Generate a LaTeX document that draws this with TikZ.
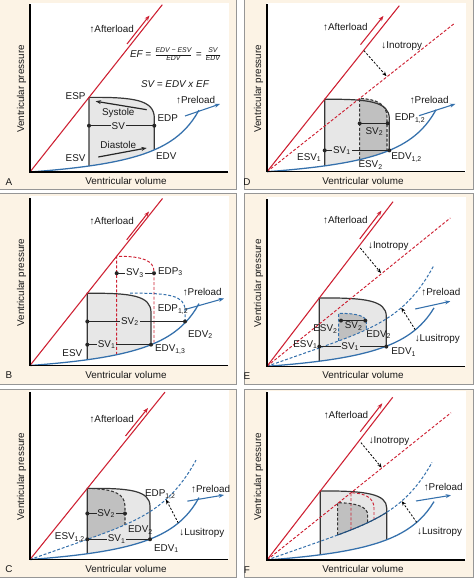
\documentclass[tikz,border=0pt]{standalone}
\usepackage{amsmath}
\usepackage{fontspec}
\setmainfont{Liberation Sans}
\usetikzlibrary{arrows.meta}

\definecolor{panelbg}{RGB}{252,243,229}
\definecolor{panelrule}{RGB}{150,150,150}
\definecolor{pvred}{RGB}{206,32,50}
\definecolor{pvblue}{RGB}{52,112,172}
\definecolor{loopfill}{RGB}{231,231,231}
\definecolor{darkfill}{RGB}{192,192,192}
\definecolor{loopline}{RGB}{55,55,55}

\newcommand{\incr}{{\bfseries ↑}}
\newcommand{\decr}{{\bfseries ↓}}

\tikzset{
  lbl/.style={font=\fontsize{7.4}{8}\selectfont, inner sep=0.6pt, text=black!90},
  espvr/.style={draw=pvred, line width=0.8pt},
  espvrdash/.style={draw=pvred, line width=0.7pt, dash pattern=on 2.2pt off 1.4pt},
  edpvr/.style={draw=pvblue, line width=0.95pt},
  edpvrdash/.style={draw=pvblue, line width=0.75pt, dash pattern=on 2.2pt off 1.4pt},
  loopedge/.style={draw=loopline, line width=0.9pt},
  loopdash/.style={draw=loopline, line width=0.8pt, dash pattern=on 2.2pt off 1.4pt},
  svline/.style={draw=black!85, line width=0.9pt},
  axisline/.style={draw=black, line width=1.1pt},
  loadarrow/.style={-{Stealth[length=4pt,width=3pt]}, line width=0.8pt},
  shiftarrow/.style={draw=black, -{Stealth[length=3.5pt,width=2.8pt]}, line width=0.6pt, dash pattern=on 1.6pt off 1.2pt},
  panelbox/.style={fill=panelbg, draw=panelrule, line width=0.6pt},
  pvdot/.style={fill=black!85}
}

\begin{document}
\begin{tikzpicture}[x=0.75pt, y=0.75pt,
  declare function={edp(\v)=15.49*\v/(211.3-\v); lus(\v)=0.35*\v+1.97*(\v/100)^6;}]
  \useasboundingbox (0,0) rectangle (474,579);
  \fill[white] (0,0) rectangle (474,579);

  \path[panelbox] (-1,389.7) rectangle (236,581);
  \path[panelbox] (244,389.7) rectangle (473,581);
  \path[panelbox] (-1,194.3) rectangle (236,385.3);
  \path[panelbox] (244,194.3) rectangle (473,385.3);
  \path[panelbox] (-1,1.5) rectangle (236,189.7);
  \path[panelbox] (244,1.5) rectangle (473,189.7);

  % A
  \begin{scope}[shift={(30,407)}]
    \fill[white] (0,0) rectangle (199,169);
    \fill[loopfill] (59,{edp(59)}) -- (59,74.6) .. controls (104,75) and (124.3,72) .. (124.3,54)
      -- (124.3,{edp(124.3)}) -- plot[domain=124.3:59, samples=15] (\x,{edp(\x)}) -- cycle;
    \draw[loopedge] (59,{edp(59)}) -- (59,74.6) .. controls (104,75) and (124.3,72) .. (124.3,54)
      -- (124.3,{edp(124.3)});
    \draw[edpvr] plot[domain=0:169, samples=50] (\x,{edp(\x)});
    \draw[espvr] (0,0) -- (132.3,167.3);
    \draw[espvr, loadarrow] (97,128) -- (119.5,156.5);
    \draw[edpvr, loadarrow] (155,56) -- (190,68);
    \draw[axisline] (0,167.5) -- (0,0) -- (198,0);

    \draw[svline] (59,46.3) -- (124.3,46.3);
    \fill[pvdot] (59,46.3) circle (1.5pt) (124.3,46.3) circle (1.5pt);
    \node[lbl, fill=loopfill] (sva) at (88.3,46.3) {SV};
    \node[lbl] (systa) at (88.3,59) {Systole};
    \node[lbl] (diasta) at (88.3,27) {Diastole};
    \draw[svline, -{Stealth[length=4pt,width=3pt]}] (116.7,62.3) -- (65.7,70.7);
    \draw[svline, -{Stealth[length=4pt,width=3pt]}] (68.3,15) -- (116.7,24);

    \node[lbl, anchor=east] (espa) at (56.5,76) {ESP};
    \node[lbl, anchor=west] (edpa) at (126.5,54) {EDP};
    \node[lbl, anchor=east] (esva) at (56.5,14) {ESV};
    \node[lbl, anchor=west] (edva) at (125,16) {EDV};
    \node[lbl, anchor=east] (afta) at (105,143) {\incr Afterload};
    \node[lbl, anchor=west] (prea) at (145,72.3) {\incr Preload};
    \node[lbl, anchor=west, font=\fontsize{7.4}{8}\selectfont\itshape] (efa) at (99,117)
      {EF = $\frac{\text{EDV − ESV}\mathstrut}{\text{EDV}\mathstrut}$ = $\frac{\text{SV}\mathstrut}{\text{EDV}\mathstrut}$};
    \node[lbl, anchor=west, font=\fontsize{7.4}{8}\selectfont\itshape] (sva2) at (110,88) {SV = EDV x EF};

    \node[lbl, rotate=90] (ya) at (-8.5,83) {Ventricular pressure};
    \node[lbl] (xa) at (96,-9) {Ventricular volume};
    \node[lbl] (taga) at (-21,-10) {A};
  \end{scope}

  % B
  \begin{scope}[shift={(30,213.5)}]
    \fill[white] (0,0) rectangle (199,169);
    \fill[loopfill] (57.3,{edp(57.3)}) -- (57.3,72.2) .. controls (101,72.6) and (121,70) .. (121,53)
      -- (121,{edp(121)}) -- plot[domain=121:57.3, samples=15] (\x,{edp(\x)}) -- cycle;
    \draw[loopedge] (57.3,{edp(57.3)}) -- (57.3,72.2) .. controls (101,72.6) and (121,70) .. (121,53)
      -- (121,{edp(121)});
    \draw[edpvrdash] (100,72.4) .. controls (140,72.4) and (155,70) .. (155,55) -- (155,{edp(155)});
    \draw[espvrdash] (86.7,{edp(86.7)}) -- (86.7,109.2) .. controls (112,109.5) and (124,105) .. (124,94)
      -- (124,{edp(124)});
    \draw[edpvr] plot[domain=0:169, samples=50] (\x,{edp(\x)});
    \draw[espvr] (0,0) -- (132.5,167);
    \draw[espvr, loadarrow] (96.7,125.7) -- (119,154);
    \draw[edpvr, loadarrow] (155,56) -- (194,67);
    \draw[axisline] (0,167.5) -- (0,0) -- (198,0);

    \draw[svline] (86.7,92.3) -- (124,92.3);
    \draw[svline] (57.3,44) -- (155,44);
    \draw[svline] (57.3,20.8) -- (121,20.8);
    \fill[pvdot] (86.7,92.3) circle (1.5pt) (124,92.3) circle (1.5pt)
      (57.3,44) circle (1.5pt) (155,44) circle (1.5pt)
      (57.3,20.8) circle (1.5pt) (121,20.8) circle (1.5pt);
    \node[lbl, fill=white] (sv3b) at (105,92.3) {SV\textsubscript{3}};
    \node[lbl, fill=loopfill] (sv2b) at (100,44) {SV\textsubscript{2}};
    \node[lbl, fill=loopfill] (sv1b) at (76.7,20.8) {SV\textsubscript{1}};

    \node[lbl, anchor=west] (edp3b) at (127,94) {EDP\textsubscript{3}};
    \node[lbl, anchor=west] (edp12b) at (126.7,55.7) {EDP\textsubscript{1,2}};
    \node[lbl, anchor=west] (edv2b) at (157,30.7) {EDV\textsubscript{2}};
    \node[lbl, anchor=west] (edv13b) at (124,16) {EDV\textsubscript{1,3}};
    \node[lbl, anchor=east] (esvb) at (53.3,12.3) {ESV};
    \node[lbl, anchor=east] (aftb) at (105,144) {\incr Afterload};
    \node[lbl, anchor=west] (preb) at (151.7,73.3) {\incr Preload};

    \node[lbl, rotate=90] (yb) at (-8.5,83) {Ventricular pressure};
    \node[lbl] (xb) at (96,-9) {Ventricular volume};
    \node[lbl] (tagb) at (-21,-10) {B};
  \end{scope}

  % C
  \begin{scope}[shift={(30,19.5)}]
    \fill[white] (0,0) rectangle (199,169);
    \fill[loopfill] (57.3,{edp(57.3)}) -- (57.3,71.1) .. controls (100,71.5) and (120,69) .. (120,53)
      -- (120,{edp(120)}) -- plot[domain=120:57.3, samples=15] (\x,{edp(\x)}) -- cycle;
    \fill[darkfill] (57.3,{lus(57.3)}) -- (57.3,71.1) .. controls (84,70.5) and (95,66) .. (95,53)
      -- (95,{lus(95)}) -- plot[domain=95:57.3, samples=10] (\x,{lus(\x)}) -- cycle;
    \draw[loopedge] (57.3,{edp(57.3)}) -- (57.3,71.1) .. controls (100,71.5) and (120,69) .. (120,53)
      -- (120,{edp(120)});
    \draw[loopdash] (57.3,71.1) .. controls (84,70.5) and (95,66) .. (95,53) -- (95,{lus(95)});
    \draw[edpvrdash] plot[domain=0:166, samples=50] (\x,{lus(\x)});
    \draw[edpvr] plot[domain=0:169, samples=50] (\x,{edp(\x)});
    \draw[espvr] (0,0) -- (135,167.4);
    \draw[espvr, loadarrow] (95.5,123.5) -- (118,151.5);
    \draw[edpvr, loadarrow] (157.3,58.3) -- (194,64.5);
    \draw[shiftarrow] (148.3,{edp(148.3)}) -- (136,{lus(136)});
    \draw[axisline] (0,167.5) -- (0,0) -- (198,0);

    \draw[svline] (57.3,46) -- (95,46);
    \draw[svline] (57.3,20.2) -- (120,20.2);
    \fill[pvdot] (57.3,46) circle (1.5pt) (95,46) circle (1.5pt)
      (57.3,20.2) circle (1.5pt) (120,20.2) circle (1.5pt);
    \node[lbl, fill=darkfill] (sv2c) at (76.2,46) {SV\textsubscript{2}};
    \node[lbl, fill=loopfill] (sv1c) at (86.7,20.2) {SV\textsubscript{1}};

    \node[lbl, anchor=west] (edp12c) at (114,65) {EDP\textsubscript{1,2}};
    \node[lbl, anchor=west] (edv2c) at (97,29.3) {EDV\textsubscript{2}};
    \node[lbl, anchor=east] (esv12c) at (56,22) {ESV\textsubscript{1,2}};
    \node[lbl, anchor=west] (edv1c) at (123,11) {EDV\textsubscript{1}};
    \node[lbl, anchor=east] (aftc) at (105,140) {\incr Afterload};
    \node[lbl, anchor=west] (prec) at (160,70) {\incr Preload};
    \node[lbl, anchor=west] (lusc) at (148.3,26.7) {\decr Lusitropy};

    \node[lbl, rotate=90] (yc) at (-8.5,83) {Ventricular pressure};
    \node[lbl] (xc) at (96,-9) {Ventricular volume};
    \node[lbl] (tagc) at (-21,-10) {C};
  \end{scope}

  % D
  \begin{scope}[shift={(267,407.3)}]
    \fill[white] (0,0) rectangle (199,169);
    \fill[loopfill] (57.7,{edp(57.7)}) -- (57.7,72.4) .. controls (102,72.8) and (122.3,70) .. (122.3,53)
      -- (122.3,{edp(122.3)}) -- plot[domain=122.3:57.7, samples=15] (\x,{edp(\x)}) -- cycle;
    \fill[darkfill] (92.7,{edp(92.7)}) -- (92.7,73.3) .. controls (108,72.5) and (120,69) .. (120,54)
      -- (120,{edp(120)}) -- plot[domain=120:92.7, samples=10] (\x,{edp(\x)}) -- cycle;
    \draw[loopedge] (57.7,{edp(57.7)}) -- (57.7,72.4) .. controls (102,72.8) and (122.3,70) .. (122.3,53)
      -- (122.3,{edp(122.3)});
    \draw[loopdash] (92.7,{edp(92.7)}) -- (92.7,73.3) .. controls (108,72.5) and (120,69) .. (120,54)
      -- (120,{edp(120)});
    \draw[edpvr] plot[domain=0:169, samples=50] (\x,{edp(\x)});
    \draw[espvrdash] (0,0) -- (186.7,147.7);
    \draw[espvr] (0,0) -- (132.3,166);
    \draw[espvr, loadarrow] (93.5,127) -- (116.5,155.8);
    \draw[edpvr, loadarrow] (152,56) -- (188.3,67.7);
    \draw[shiftarrow] (97,121) -- (119.5,95.5);
    \draw[axisline] (0,167.5) -- (0,0) -- (198,0);

    \draw[svline] (92.7,48.3) -- (120.7,48.3);
    \draw[svline] (57.7,{edp(122.3)}) -- (122.3,{edp(122.3)});
    \fill[pvdot] (92.7,48.3) circle (1.5pt) (120.7,48.3) circle (1.5pt)
      (57.7,{edp(122.3)}) circle (1.5pt) (122.3,{edp(122.3)}) circle (1.5pt);
    \node[lbl, fill=darkfill] (sv2d) at (107.5,40) {SV\textsubscript{2}};
    \node[lbl, fill=loopfill] (sv1d) at (75,{edp(122.3)}) {SV\textsubscript{1}};

    \node[lbl, anchor=west] (edp12d) at (126.7,53.3) {EDP\textsubscript{1,2}};
    \node[lbl, anchor=east] (esv1d) at (55.5,14) {ESV\textsubscript{1}};
    \node[lbl, anchor=west] (esv2d) at (90.5,6.5) {ESV\textsubscript{2}};
    \node[lbl, anchor=west] (edv12d) at (123.3,14) {EDV\textsubscript{1,2}};
    \node[lbl, anchor=east] (aftd) at (101.7,144.3) {\incr Afterload};
    \node[lbl, anchor=west] (inod) at (113.3,126) {\decr Inotropy};
    \node[lbl, anchor=west] (pred) at (141.7,71.7) {\incr Preload};

    \node[lbl, rotate=90] (yd) at (-8.5,83) {Ventricular pressure};
    \node[lbl] (xd) at (96,-9) {Ventricular volume};
    \node[lbl] (tagd) at (-20,-10) {D};
  \end{scope}

  % E
  \begin{scope}[shift={(267,212.7)}]
    \fill[white] (0,0) rectangle (199,169);
    \fill[loopfill] (52.3,{edp(52.3)}) -- (52.3,68.3) .. controls (98,68.7) and (119.3,66) .. (119.3,50)
      -- (119.3,{edp(119.3)}) -- plot[domain=119.3:52.3, samples=15] (\x,{edp(\x)}) -- cycle;
    \fill[darkfill] (71.7,{lus(71.7)}) -- (71.7,53) .. controls (88,53) and (99.3,51) .. (99.3,44)
      -- (99.3,{lus(99.3)}) -- plot[domain=99.3:71.7, samples=10] (\x,{lus(\x)}) -- cycle;
    \draw[loopedge] (52.3,{edp(52.3)}) -- (52.3,68.3) .. controls (98,68.7) and (119.3,66) .. (119.3,50)
      -- (119.3,{edp(119.3)});
    \draw[edpvrdash] (71.7,{lus(71.7)}) -- (71.7,53) .. controls (88,53) and (99.3,51) .. (99.3,44)
      -- (99.3,{lus(99.3)});
    \draw[edpvrdash] plot[domain=0:167, samples=50] (\x,{lus(\x)});
    \draw[edpvr] plot[domain=0:167, samples=50] (\x,{edp(\x)});
    \draw[espvrdash] (0,0) -- (183.3,148.3);
    \draw[espvr] (0,0) -- (126,164.6);
    \draw[espvr, loadarrow] (92.7,127.3) -- (114.5,155.7);
    \draw[edpvr, loadarrow] (148.3,57.3) -- (183.3,65);
    \draw[shiftarrow] (93.3,118.3) -- (114,93.3);
    \draw[shiftarrow] (148.3,{edp(148.3)}) -- (134.3,{lus(134.3)});
    \draw[axisline] (0,167.5) -- (0,0) -- (198,0);

    \draw[svline] (74,45.7) -- (98.3,45.7);
    \draw[svline] (52.3,19.7) -- (119.3,19.7);
    \fill[pvdot] (74,45.7) circle (1.5pt) (98.3,45.7) circle (1.5pt)
      (52.3,19.7) circle (1.5pt) (119.3,19.7) circle (1.5pt);
    \node[lbl, fill=darkfill] (sv2e) at (86.7,40) {SV\textsubscript{2}};
    \node[lbl, fill=loopfill] (sv1e) at (83.3,19.7) {SV\textsubscript{1}};

    \node[lbl, anchor=east] (esv2e) at (71.7,37.3) {ESV\textsubscript{2}};
    \node[lbl, anchor=west] (edv2e) at (98.3,31.7) {EDV\textsubscript{2}};
    \node[lbl, anchor=east] (esv1e) at (51.7,21.7) {ESV\textsubscript{1}};
    \node[lbl, anchor=west] (edv1e) at (123.3,14) {EDV\textsubscript{1}};
    \node[lbl, anchor=east] (afte) at (101.7,146.7) {\incr Afterload};
    \node[lbl, anchor=west] (inoe) at (100,120) {\decr Inotropy};
    \node[lbl, anchor=west] (pree) at (153.3,74) {\incr Preload};
    \node[lbl, anchor=west] (luse) at (146.7,27.7) {\decr Lusitropy};

    \node[lbl, rotate=90] (ye) at (-8.5,83) {Ventricular pressure};
    \node[lbl] (xe) at (96,-9) {Ventricular volume};
    \node[lbl] (tage) at (-20,-10) {E};
  \end{scope}

  % F
  \begin{scope}[shift={(267,19)}]
    \fill[white] (0,0) rectangle (199,169);
    \fill[loopfill] (53.3,{edp(53.3)}) -- (53.3,69) .. controls (99,69.4) and (119.7,66) .. (119.7,52)
      -- (119.7,{edp(119.7)}) -- plot[domain=119.7:53.3, samples=15] (\x,{edp(\x)}) -- cycle;
    \fill[darkfill] (70.7,{lus(70.7)}) -- (70.7,57.3) .. controls (90,57) and (100.7,53) .. (100.7,45)
      -- (100.7,{lus(100.7)}) -- plot[domain=100.7:70.7, samples=10] (\x,{lus(\x)}) -- cycle;
    \draw[loopedge] (53.3,{edp(53.3)}) -- (53.3,69) .. controls (99,69.4) and (119.7,66) .. (119.7,52)
      -- (119.7,{edp(119.7)});
    \draw[espvrdash] (84,{lus(84)}) -- (84,67.2) .. controls (98,67) and (107,62) .. (107,52) -- (107,{lus(107)});
    \draw[loopdash] (70.7,{lus(70.7)}) -- (70.7,57.3) .. controls (90,57) and (100.7,53) .. (100.7,45)
      -- (100.7,{lus(100.7)});
    \draw[edpvrdash] plot[domain=0:165, samples=50] (\x,{lus(\x)});
    \draw[draw=pvblue!70!black, line width=0.8pt] plot[domain=70.7:119.7, samples=15] (\x,{lus(\x)});
    \draw[edpvr] plot[domain=0:167, samples=50] (\x,{edp(\x)});
    \draw[espvrdash] (0,0) -- (184,147.3);
    \draw[espvr] (0,0) -- (125.7,162.7);
    \draw[espvr, loadarrow] (93.3,128.3) -- (115.3,156.7);
    \draw[edpvr, loadarrow] (149,59) -- (184,64.7);
    \draw[shiftarrow] (94,117.3) -- (114.7,92.3);
    \draw[shiftarrow] (149.7,{edp(149.7)}) -- (134.7,{lus(134.7)});
    \draw[axisline] (0,167.5) -- (0,0) -- (198,0);

    \node[lbl, anchor=east] (aftf) at (102.3,145) {\incr Afterload};
    \node[lbl, anchor=west] (inof) at (100.7,119) {\decr Inotropy};
    \node[lbl, anchor=west] (pref) at (155.7,73) {\incr Preload};
    \node[lbl, anchor=west] (lusf) at (149,28.3) {\decr Lusitropy};

    \node[lbl, rotate=90] (yf) at (-8.5,83) {Ventricular pressure};
    \node[lbl] (xf) at (96,-9) {Ventricular volume};
    \node[lbl] (tagf) at (-20,-10) {F};
  \end{scope}
\end{tikzpicture}
\end{document}
